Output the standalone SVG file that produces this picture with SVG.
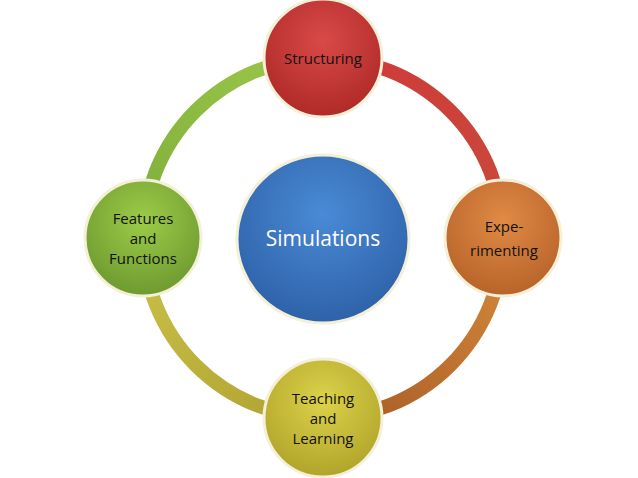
<svg xmlns="http://www.w3.org/2000/svg" width="638" height="478" viewBox="0 0 638 478">
<defs>
<radialGradient id="gR" cx="0.5" cy="0.35" r="0.65"><stop offset="0" stop-color="#d84a48"/><stop offset="1" stop-color="#b02a28"/></radialGradient>
<radialGradient id="gO" cx="0.5" cy="0.35" r="0.65"><stop offset="0" stop-color="#e08a45"/><stop offset="1" stop-color="#b8642a"/></radialGradient>
<radialGradient id="gY" cx="0.5" cy="0.35" r="0.65"><stop offset="0" stop-color="#ddd24a"/><stop offset="1" stop-color="#b0a52a"/></radialGradient>
<radialGradient id="gG" cx="0.5" cy="0.35" r="0.65"><stop offset="0" stop-color="#9ccc48"/><stop offset="1" stop-color="#6e9a30"/></radialGradient>
<radialGradient id="gB" cx="0.5" cy="0.35" r="0.65"><stop offset="0" stop-color="#4a8ad6"/><stop offset="1" stop-color="#2e62a8"/></radialGradient>
<linearGradient id="sTR" x1="0" y1="0" x2="1" y2="1"><stop offset="0" stop-color="#d0393a"/><stop offset="1" stop-color="#c84a3a"/></linearGradient>
<linearGradient id="sBR" x1="1" y1="0" x2="0" y2="1"><stop offset="0" stop-color="#d58a3c"/><stop offset="1" stop-color="#a65a25"/></linearGradient>
<linearGradient id="sBL" x1="0" y1="0" x2="1" y2="1"><stop offset="0" stop-color="#c9c24a"/><stop offset="1" stop-color="#b0a030"/></linearGradient>
<linearGradient id="sTL" x1="0" y1="1" x2="1" y2="0"><stop offset="0" stop-color="#7fae3a"/><stop offset="1" stop-color="#9cc84a"/></linearGradient>
</defs>
<style>
.node{stroke:#f4f0d8;stroke-width:3}
.t{font-family:"Open Sans","Liberation Sans",sans-serif;font-size:15px;fill:#111;text-anchor:middle}
.arc{fill:none;stroke-width:14}
</style>
<rect width="638" height="478" fill="#fff"/>
<g id="connectors">
<path class="arc" stroke="url(#sTR)" d="M323 58 A180 180 0 0 1 503 238"/>
<path class="arc" stroke="url(#sBR)" d="M503 238 A180 180 0 0 1 323 418"/>
<path class="arc" stroke="url(#sBL)" d="M323 418 A180 180 0 0 1 143 238"/>
<path class="arc" stroke="url(#sTL)" d="M143 238 A180 180 0 0 1 323 58"/>
</g>
<g id="center"><ellipse class="node" cx="323" cy="239" rx="86" ry="84" fill="url(#gB)"/><text x="323" y="246" class="t" style="font-size:21px;fill:#fff">Simulations</text></g>
<g id="structuring"><circle class="node" cx="323" cy="58" r="59" fill="url(#gR)"/><text x="323" y="64" class="t">Structuring</text></g>
<g id="experimenting"><circle class="node" cx="503" cy="238" r="58" fill="url(#gO)"/><text x="504" y="232" class="t">Expe-</text><text x="504" y="256" class="t">rimenting</text></g>
<g id="teaching"><circle class="node" cx="323" cy="418" r="59" fill="url(#gY)"/><text x="323" y="404" class="t">Teaching</text><text x="323" y="424" class="t">and</text><text x="323" y="444" class="t">Learning</text></g>
<g id="features"><circle class="node" cx="143" cy="238" r="58" fill="url(#gG)"/><text x="143" y="224" class="t">Features</text><text x="143" y="244" class="t">and</text><text x="143" y="264" class="t">Functions</text></g>
</svg>
